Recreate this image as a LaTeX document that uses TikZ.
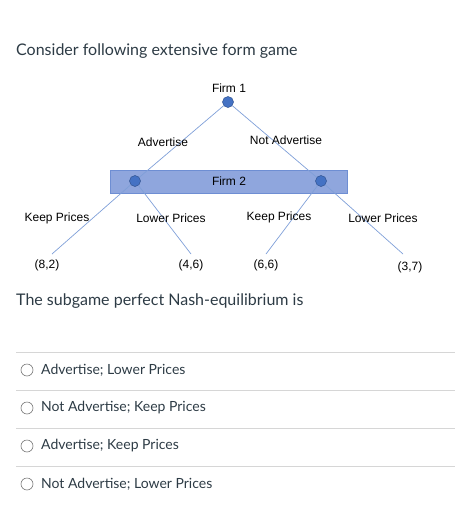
\documentclass[tikz,border=0pt]{standalone}
\usepackage{fontspec}
\setmainfont{Lato}
\newfontfamily\arialfont{Liberation Sans}
\usepackage{tikz}
\usepackage{xcolor}
\usetikzlibrary{positioning, calc}

\definecolor{canvastext}{RGB}{45,59,69}
\definecolor{branchblue}{RGB}{127,159,216}
\definecolor{dotblue}{RGB}{68,114,196}
\definecolor{dotedge}{RGB}{47,82,143}
\definecolor{setfill}{RGB}{143,166,221}
\definecolor{setedge}{RGB}{110,142,211}
\definecolor{rulegray}{RGB}{214,214,214}
\definecolor{radiogray}{RGB}{120,120,120}

\tikzset{
	decision/.style={circle, fill=dotblue, draw=dotedge, line width=0.5pt, minimum size=11pt, inner sep=0pt},
	branch/.style={draw=branchblue, line width=0.7pt},
	gamelabel/.style={font=\arialfont\fontsize{12}{14}\selectfont, text=black, inner sep=1pt},
	radio/.style={circle, draw=radiogray, line width=0.6pt, minimum size=12pt, inner sep=0pt},
	choice/.style={anchor=west, font=\fontsize{14}{16}\selectfont, text=canvastext, inner sep=0pt}
}

\begin{document}
\begin{tikzpicture}[x=1pt, y=-1pt]
	\useasboundingbox (0,0) rectangle (455,512);

	\node[anchor=west, font=\fontsize{16}{19}\selectfont, text=canvastext, inner sep=0pt] (question) at (16,51) {Consider following extensive form game};

	% Information set of Firm 2
	\node[draw=setedge, fill=setfill, line width=0.6pt, minimum width=237pt, minimum height=23pt, inner sep=0pt] (infoset) at (228.5,181.5) {};
	\node[gamelabel] (firmtwo) at (229,181) {Firm 2};

	% Decision nodes
	\node[decision] (root) at (228,102) {};
	\node[decision] (adv) at (135,181) {};
	\node[decision] (noadv) at (321,181) {};
	\node[gamelabel] (firmone) at (229,88) {Firm 1};

	% Terminal points
	\coordinate (t1) at (52,254);
	\coordinate (t2) at (191,254);
	\coordinate (t3) at (266,254);
	\coordinate (t4) at (403,254);

	\draw[branch] (root) -- (adv);
	\draw[branch] (root) -- (noadv);
	\draw[branch] (adv) -- (t1);
	\draw[branch] (adv) -- (t2);
	\draw[branch] (noadv) -- (t3);
	\draw[branch] (noadv) -- (t4);

	% Action labels
	\node[gamelabel] (advlabel) at (163,142) {Advertise};
	\node[gamelabel] (noadvlabel) at (286,140) {Not Advertise};
	\node[gamelabel] (keepone) at (57,218) {Keep Prices};
	\node[gamelabel] (lowerone) at (171,218) {Lower Prices};
	\node[gamelabel] (keeptwo) at (279,217) {Keep Prices};
	\node[gamelabel] (lowertwo) at (383,218) {Lower Prices};

	% Payoffs
	\node[gamelabel] (payone) at (47,265) {(8,2)};
	\node[gamelabel] (paytwo) at (191,265) {(4,6)};
	\node[gamelabel] (paythree) at (266,265) {(6,6)};
	\node[gamelabel] (payfour) at (410,267) {(3,7)};

	\node[anchor=west, font=\fontsize{16}{19}\selectfont, text=canvastext, inner sep=0pt] (prompt) at (16,301) {The subgame perfect Nash-equilibrium is};

	% Answer rows
	\draw[rulegray, line width=0.8pt] (16,352) -- (455,352);
	\draw[rulegray, line width=0.8pt] (16,390) -- (455,390);
	\draw[rulegray, line width=0.8pt] (16,428) -- (455,428);
	\draw[rulegray, line width=0.8pt] (16,466) -- (455,466);

	\node[radio] (ra) at (27,370) {};
	\node[radio] (rb) at (27,408) {};
	\node[radio] (rc) at (27,446) {};
	\node[radio] (rd) at (27,484) {};

	\node[choice] (ca) at (41,370) {Advertise; Lower Prices};
	\node[choice] (cb) at (41,408) {Not Advertise; Keep Prices};
	\node[choice] (cc) at (41,446) {Advertise; Keep Prices};
	\node[choice] (cd) at (41,484) {Not Advertise; Lower Prices};
\end{tikzpicture}
\end{document}
